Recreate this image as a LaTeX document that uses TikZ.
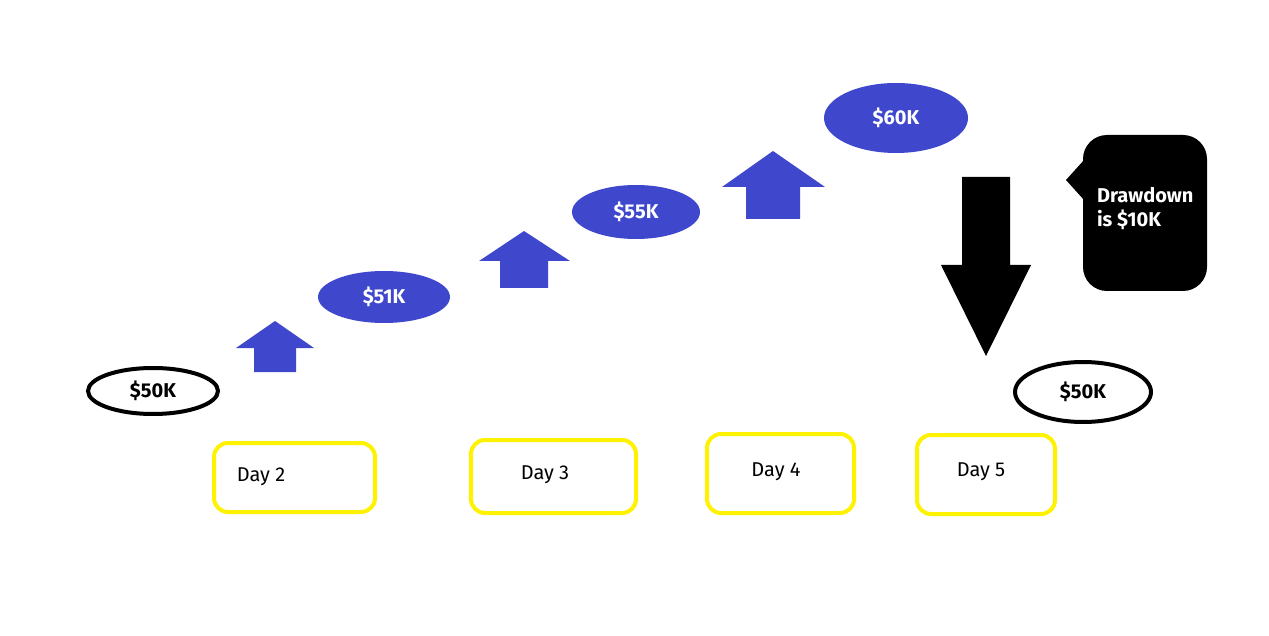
\documentclass[tikz,border=0pt]{standalone}
\usepackage{fontspec}
\setmainfont{Fira Sans}
\usetikzlibrary{shapes.geometric}
\definecolor{myblue}{HTML}{3F48CC}
\definecolor{myyellow}{HTML}{FFF200}
\begin{document}
\begin{tikzpicture}[x=0.5pt,y=-0.5pt,
  blueell/.style={ellipse,fill=myblue,text=white,font=\fontsize{10}{12}\selectfont\bfseries,inner sep=0pt},
  blackell/.style={ellipse,draw=black,line width=2pt,font=\fontsize{10}{12}\selectfont\bfseries,inner sep=0pt},
  daybox/.style={draw=myyellow,line width=2pt,rounded corners=7pt,font=\fontsize{10}{12}\selectfont}]
\useasboundingbox[fill=white] (0,0) rectangle (1269,636);
\node[blackell,minimum width=65pt,minimum height=23pt] (v1) at (153,391) {\$50K};
\node[blueell,minimum width=66pt,minimum height=26pt] (v2) at (384,297) {\$51K};
\node[blueell,minimum width=64pt,minimum height=27pt] (v3) at (636,212) {\$55K};
\node[blueell,minimum width=72pt,minimum height=35pt] (v4) at (896,118) {\$60K};
\node[blackell,minimum width=68pt,minimum height=30pt] (v5) at (1083,392) {\$50K};
% up arrows
\fill[myblue] (275,321) -- (314,348) -- (296,348) -- (296,372) -- (254,372) -- (254,348) -- (236,348) -- cycle;
\fill[myblue] (524,231) -- (570,261) -- (548,261) -- (548,288) -- (500,288) -- (500,261) -- (479,261) -- cycle;
\fill[myblue] (773,151) -- (825,187) -- (800,187) -- (800,219) -- (746,219) -- (746,187) -- (722,187) -- cycle;
% down arrow
\fill[black] (962,177) -- (1010,177) -- (1010,265) -- (1031,265) -- (986,356) -- (941,265) -- (962,265) -- cycle;
% callout
\fill[black,rounded corners=12pt] (1083,135) rectangle (1207,291);
\fill[black] (1084,160) -- (1066,180) -- (1084,200) -- cycle;
\node[text=white,font=\fontsize{10}{12}\selectfont\bfseries,align=left,anchor=west] (cl) at (1090,209) {Drawdown\\is \$10K};
% day boxes
\draw[daybox] (214,443) rectangle (375,512);
\node[font=\fontsize{10}{12}\selectfont] (d2) at (261,477) {Day 2};
\draw[daybox] (471,440) rectangle (636,513);
\node[font=\fontsize{10}{12}\selectfont] (d3) at (545,475) {Day 3};
\draw[daybox] (707,434) rectangle (854,513);
\node[font=\fontsize{10}{12}\selectfont] (d4) at (776,472) {Day 4};
\draw[daybox] (917,435) rectangle (1055,514);
\node[font=\fontsize{10}{12}\selectfont] (d5) at (981,472) {Day 5};
\end{tikzpicture}
\end{document}
